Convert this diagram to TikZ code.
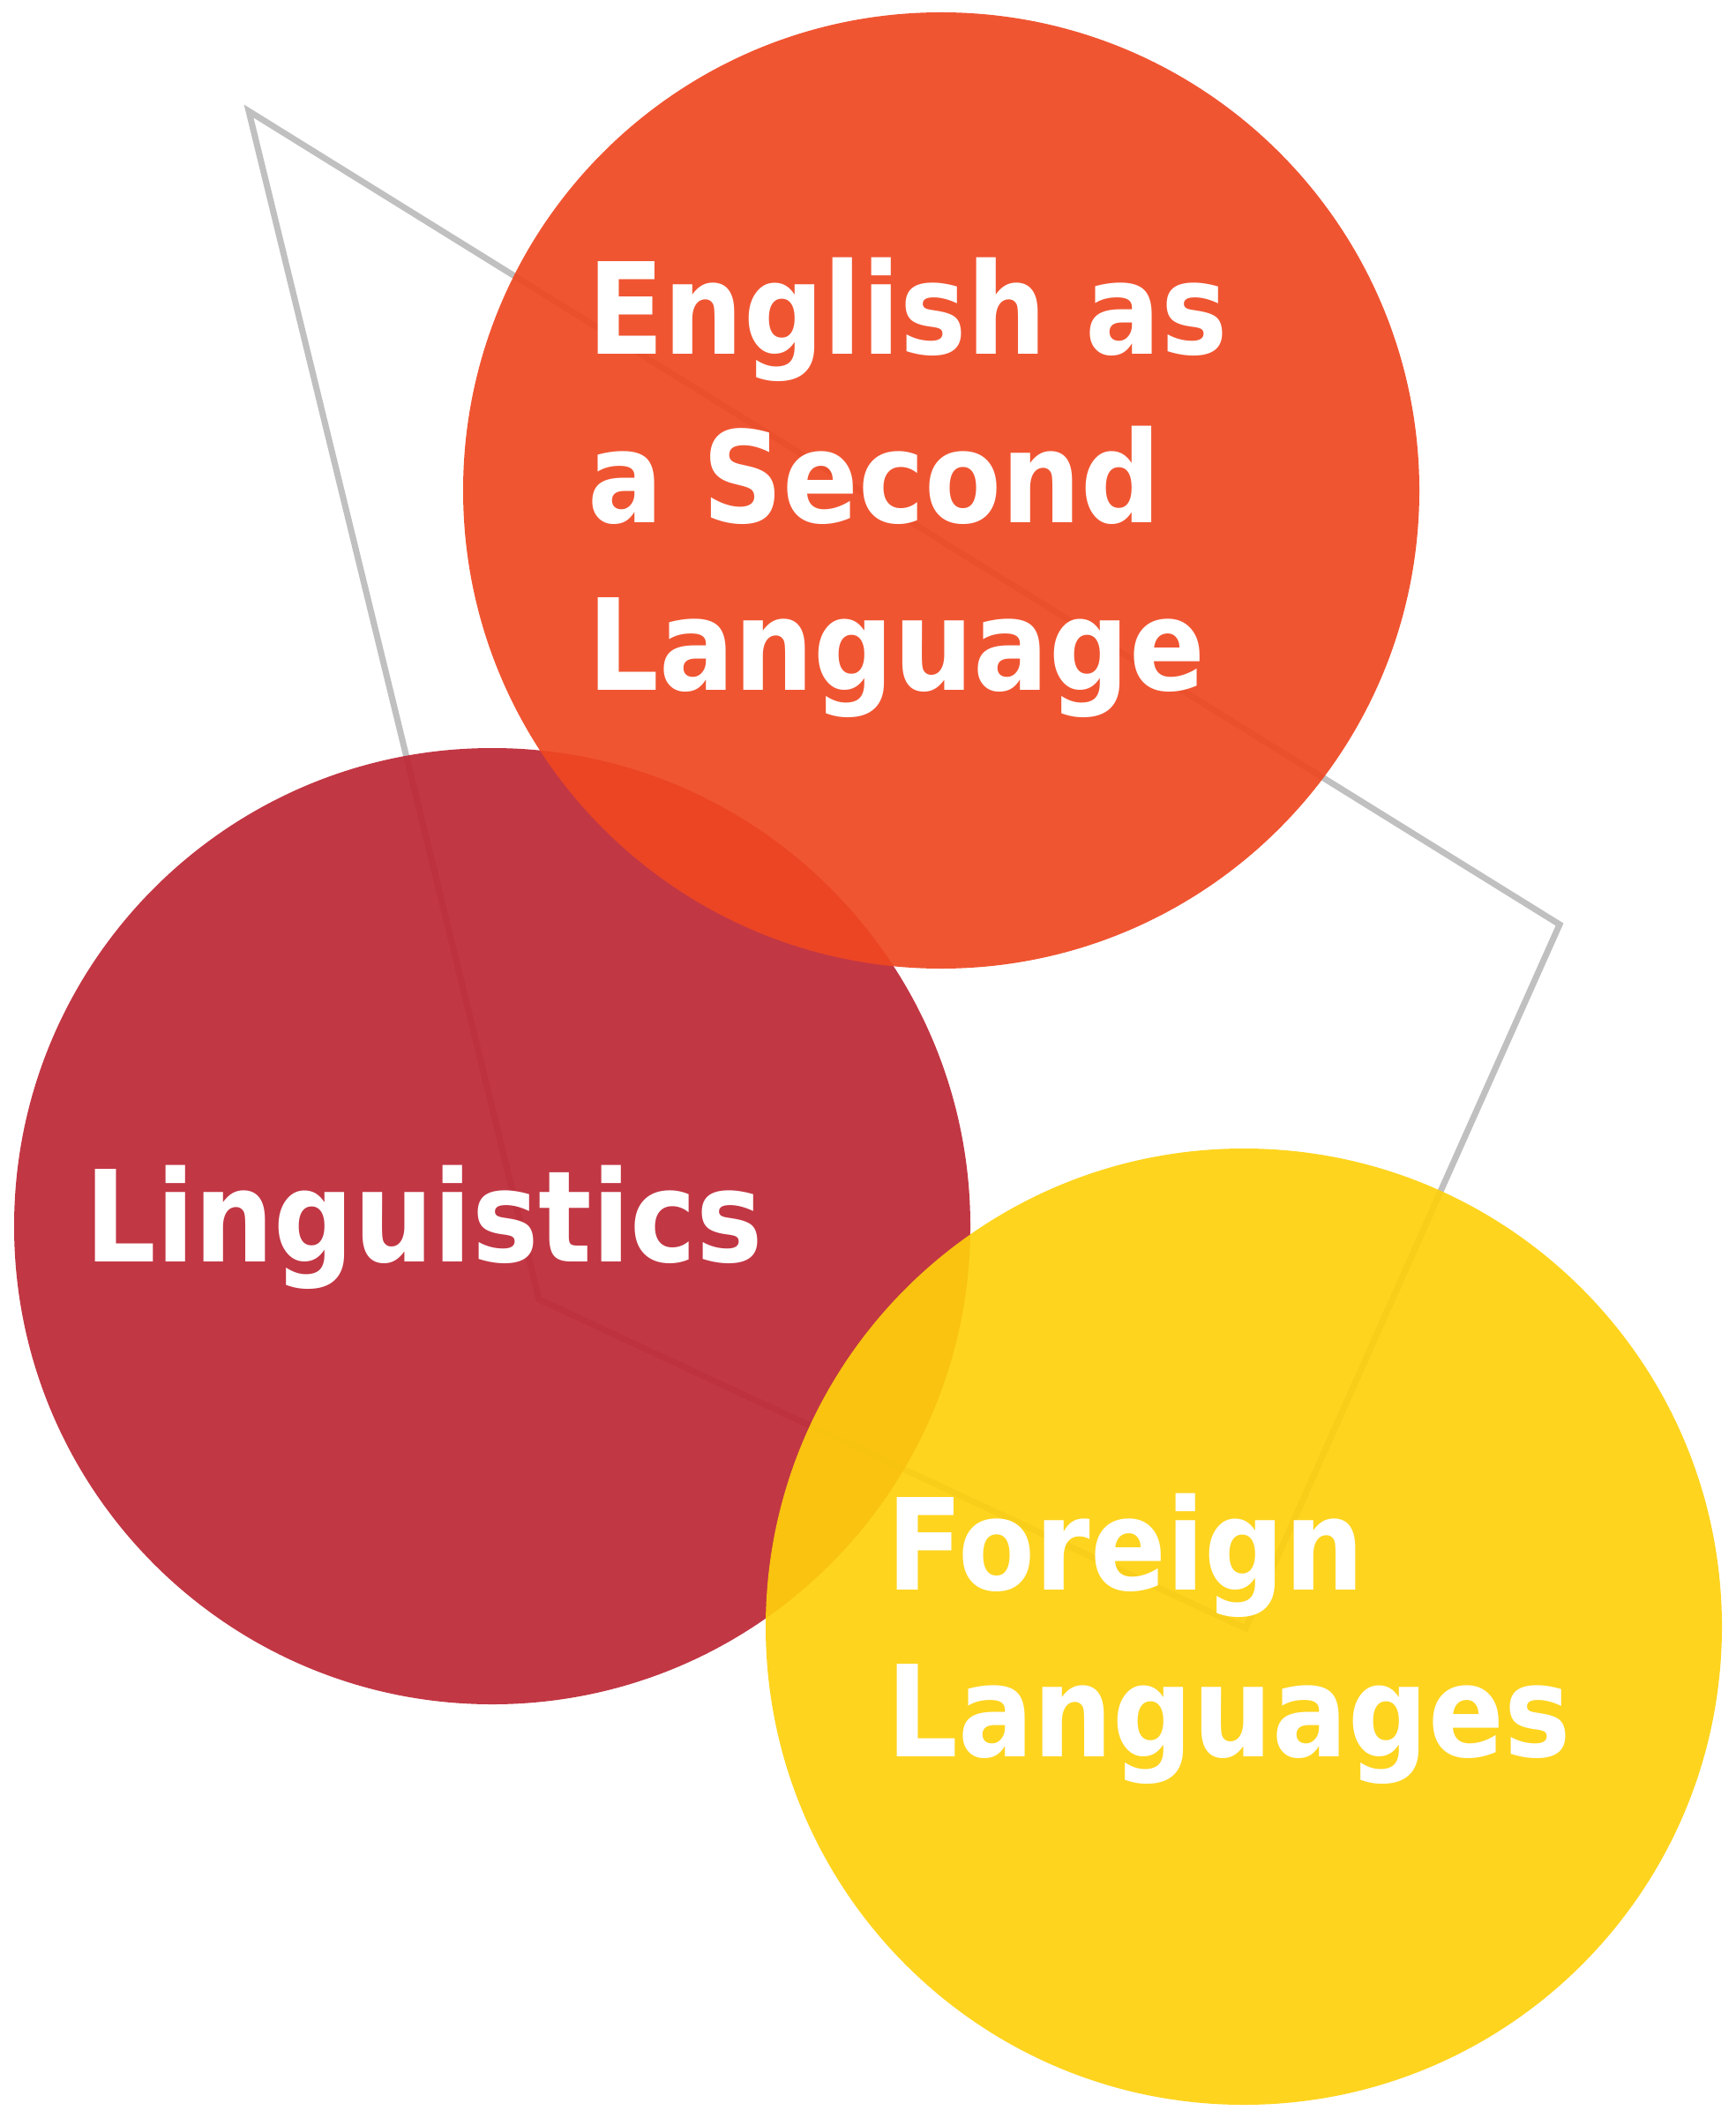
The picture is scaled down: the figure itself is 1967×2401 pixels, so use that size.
\documentclass[tikz,border=0pt]{standalone}
\usepackage{fontspec}
\newfontfamily\lblfont{DejaVu Sans}[FakeStretch=0.88]
\definecolor{cOrange}{RGB}{239,71,33}
\definecolor{cRed}{RGB}{189,38,52}
\definecolor{cYellow}{RGB}{254,208,12}
\definecolor{cGray}{RGB}{192,192,192}
\tikzset{
  disc/.style={fill opacity=0.92},
  frameline/.style={draw=cGray, line width=3.5pt, line join=miter},
  lbl/.style={text=white, inner sep=0pt, anchor=base west,
    font=\lblfont\bfseries\fontsize{72pt}{95pt}\selectfont}
}
\begin{document}
\begin{tikzpicture}[x=0.5pt,y=-0.5pt]
\useasboundingbox (0,0) rectangle (1967,2401);
% frame polygon
\coordinate (pA) at (282,126);
\coordinate (pB) at (1768,1048);
\coordinate (pC) at (1412,1846);
\coordinate (pD) at (611,1473);
\draw[frameline] (pA) -- (pB) -- (pC) -- (pD) -- cycle;
% circles
\coordinate (cLing) at (558,1390);
\coordinate (cEsl) at (1067,556);
\coordinate (cFor) at (1410,1844);
\fill[cRed, disc] (cLing) circle[radius=542];
\fill[cOrange, disc] (cEsl) circle[radius=542];
\fill[cYellow, disc] (cFor) circle[radius=542];
% labels
\node[lbl] (esl1) at (666,402) {English as};
\node[lbl] (esl2) at (666,592) {a Second};
\node[lbl] (esl3) at (666,782) {Language};
\node[lbl] (ling) at (96,1430) {Linguistics};
\node[lbl] (for1) at (1005,1802) {Foreign};
\node[lbl] (for2) at (1005,1991) {Languages};
\end{tikzpicture}
\end{document}
